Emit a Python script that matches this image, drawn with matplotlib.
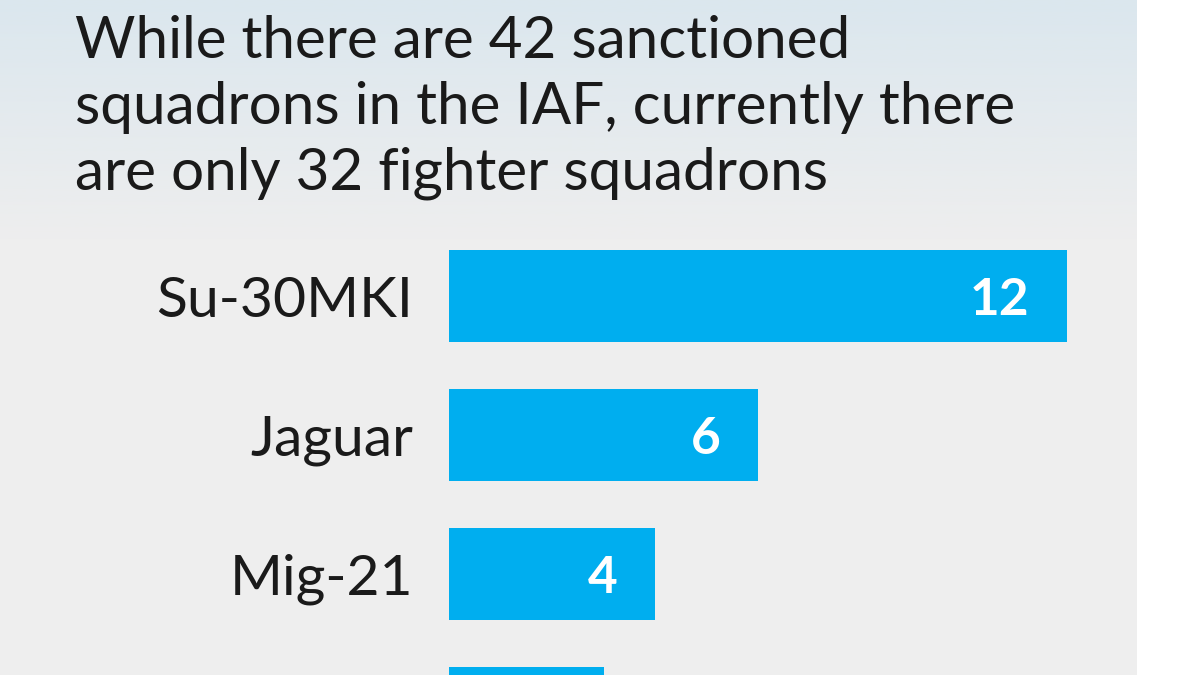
import numpy as np
import matplotlib
matplotlib.use("Agg")
import matplotlib.pyplot as plt
from matplotlib.colors import LinearSegmentedColormap

# ---- data ----
categories = ["Su-30MKI", "Jaguar", "Mig-21", ""]
values = [12, 6, 4, 3]
value_labels = ["12", "6", "4", ""]
title = "While there are 42 sanctioned\nsquadrons in the IAF, currently there\nare only 32 fighter squadrons"

BAR = "#00aeef"
PANEL = "#eeeeee"
TOP = "#dbe7ee"
FONT = "Lato"

W, H = 1200, 675
fig = plt.figure(figsize=(12, 6.75), dpi=100)
fig.patch.set_facecolor("white")

# background panel with gradient
bg = fig.add_axes([0, 0, 1137 / W, 1])
bg.set_axis_off()
grad = np.linspace(0, 1, 256).reshape(-1, 1)
cmap = LinearSegmentedColormap.from_list("g", [TOP, PANEL])
bg.imshow(grad, aspect="auto", cmap=cmap, extent=[0, 1, 1 - 240 / H, 1], origin="upper")
bg.add_patch(plt.Rectangle((0, 0), 1, 1 - 240 / H + 0.002, color=PANEL, lw=0))
bg.set_xlim(0, 1)
bg.set_ylim(0, 1)

# multi-line 'baseline' alignment anchors the last line's baseline
fig.text(75 / W, 1 - 189 / H, title, ha="left", va="baseline", fontsize=42,
         family=FONT, color="#1a1a1a", linespacing=1.29)

# bar axes
top_px = 230
ax = fig.add_axes([449 / W, 0, 618 / W, (H - top_px) / H])
ax.set_facecolor("none")
pos = np.arange(len(categories))
ax.barh(pos, values, height=0.66, color=BAR)
ax.set_yticks(pos)
ax.set_yticklabels(categories, family=FONT, fontsize=41, color="#1a1a1a")
ax.set_xlim(0, 12)
ax.set_ylim(2.727, -0.475)
ax.tick_params(axis="y", length=0, pad=26)
ax.set_xticks([])
for s in ax.spines.values():
    s.set_visible(False)
for p, v, lab in zip(pos, values, value_labels):
    ax.annotate(lab, (v, p), xytext=(-27, -3), textcoords="offset points",
                ha="right", va="center", color="white", fontsize=37,
                fontweight="bold", family=FONT)

fig.savefig("out.png", dpi=100)
